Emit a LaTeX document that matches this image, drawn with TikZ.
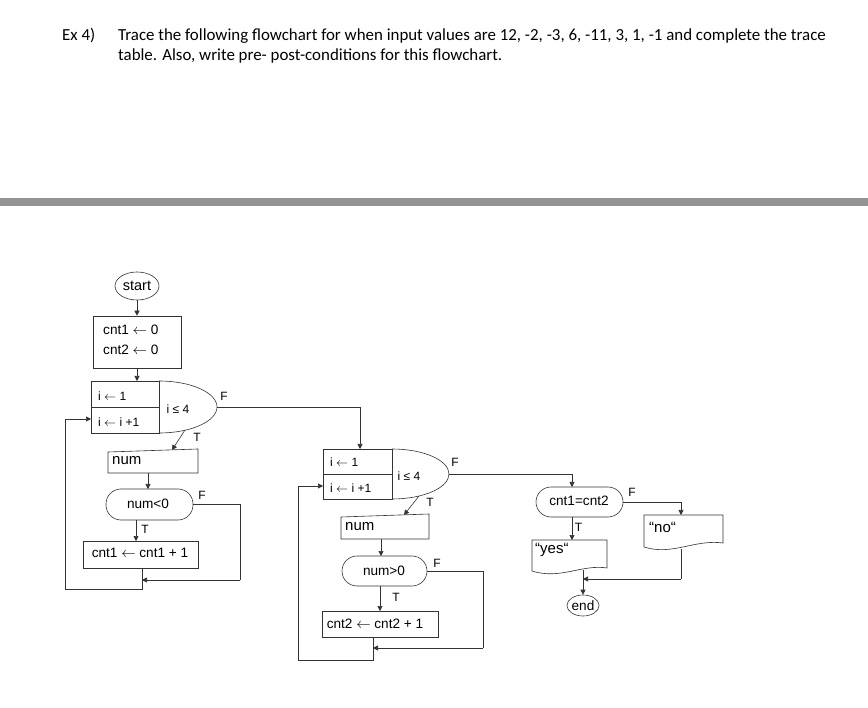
\documentclass[tikz,border=0pt]{standalone}
\usepackage{fontspec}
\setmainfont{Liberation Sans}
\newfontfamily\titlefont{Carlito}
\usetikzlibrary{arrows.meta,shapes.geometric}
\newcommand{\la}{\ensuremath{\leftarrow}}
\begin{document}
\begin{tikzpicture}[x=1pt,y=-1pt,
  ln/.style={draw=black!80,line width=0.6pt},
  arr/.style={ln,-{Triangle[length=5pt,width=5pt]}},
  txt/.style={inner sep=0pt,font=\fontsize{13.6}{15}\selectfont},
  bigtxt/.style={inner sep=0pt,font=\fontsize{15}{17}\selectfont},
  stxt/.style={inner sep=0pt,font=\fontsize{12}{13}\selectfont},
  tflbl/.style={inner sep=0pt,font=\fontsize{12}{14}\selectfont},
  ttl/.style={inner sep=0pt,font=\titlefont\fontsize{16.9}{20}\selectfont},
  boxn/.style={ln,rectangle,inner sep=0pt},
  stad/.style={ln,rectangle,rounded corners=15pt,inner sep=0pt}]
\useasboundingbox (0,0) rectangle (868,708);
\fill[white] (0,0) rectangle (868,708);

% title
\node[ttl,anchor=base west] (ex) at (62,41) {Ex 4)};
\node[ttl,anchor=base west] (q1) at (118,41)
  {Trace the following flowchart for when input values are 12, -2, -3, 6, -11, 3, 1, -1 and complete the trace};
\node[ttl,anchor=base west] (q2) at (118,61)
  {table. Also, write pre- post-conditions for this flowchart.};

% gray bar
\fill[black!42] (0,198) rectangle (868,206);

% ---------- left column ----------
\node[ln,ellipse,minimum width=44pt,minimum height=28pt,inner sep=0pt,font=\fontsize{14.5}{16}\selectfont] (start) at (137,286) {start};
\node[boxn,minimum width=88pt,minimum height=52pt] (init) at (137,342) {};
\node[txt,anchor=west] (initA) at (103,330) {cnt1 \la{} 0};
\node[txt,anchor=west] (initB) at (103,350) {cnt2 \la{} 0};
\draw[arr] (start.south) -- (init.north);

% loop 1
\coordinate (L1top) at (137,381);
\coordinate (L1in) at (91,419);
\coordinate (L1tip) at (217,407);
\coordinate (L1T) at (185,430);
\draw[ln] (91,381) rectangle (159,433);
\draw[ln] (91,407) -- (159,407);
\draw[ln] (159,381) arc[start angle=-90,end angle=90,x radius=58,y radius=26];
\node[stxt,anchor=west] (l1a) at (98,396) {i \la{} 1};
\node[stxt,anchor=west] (l1b) at (98,422) {i \la{} i +1};
\node[stxt] (l1c) at (178,409) {i ≤ 4};
\draw[arr] (init.south) -- (L1top);

% num 1 (manual input)
\draw[ln] (108,452) -- (198,449) -- (198,473) -- (108,473) -- cycle;
\coordinate (N1top) at (172,450);
\coordinate (N1bot) at (148,473);
\node[bigtxt,anchor=west] (n1) at (112,461) {num};
\draw[arr] (L1T) -- (N1top);
\node[tflbl] (T1) at (197,437) {T};

\node[stad,minimum width=87pt,minimum height=31pt] (d1) at (149.5,504.5) {};
\node[txt] (d1t) at (148,504) {num<0};
\draw[arr] (N1bot) -- (148,489);
\node[tflbl] (F1b) at (202,495) {F};

\node[boxn,minimum width=115pt,minimum height=27pt] (c1) at (140.5,554.5) {};
\node[txt] (c1t) at (140,553) {cnt1 \la{} cnt1 + 1};
\coordinate (d1T) at (136,520);
\draw[arr] (d1T) -- (136,541);
\node[tflbl] (T1b) at (145,529) {T};

\coordinate (c1b) at (142,568);
\coordinate (j1) at (142,580);
\draw[ln] (c1b) -- (142,589) -- (65,589) -- (65,419);
\draw[arr] (65,419) -- (L1in);
\draw[ln] (d1.east) -- (240,504.5) -- (240,580);
\draw[arr] (240,580) -- (j1);

% F from loop1 to loop2
\node[tflbl] (F1) at (224,396) {F};
\coordinate (L2top) at (360,449);
\draw[ln] (L1tip) -- (360,407);
\draw[arr] (360,407) -- (L2top);

% ---------- middle column ----------
\coordinate (L2in) at (323,486);
\coordinate (L2tip) at (449,474);
\coordinate (L2T) at (419,496);
\draw[ln] (323,449) rectangle (392,499);
\draw[ln] (323,474) -- (392,474);
\draw[ln] (392,449) arc[start angle=-90,end angle=90,x radius=57,y radius=25];
\node[stxt,anchor=west] (l2a) at (330,462) {i \la{} 1};
\node[stxt,anchor=west] (l2b) at (330,488) {i \la{} i +1};
\node[stxt] (l2c) at (409,476) {i ≤ 4};

\draw[ln] (341,517) -- (429,514) -- (429,539) -- (341,539) -- cycle;
\coordinate (N2top) at (404,515);
\coordinate (N2bot) at (381,539);
\node[bigtxt,anchor=west] (n2) at (345,527) {num};
\draw[arr] (L2T) -- (N2top);
\node[tflbl] (T2) at (430,502) {T};

\node[stad,minimum width=85pt,minimum height=30pt] (d2) at (384.5,571) {};
\node[txt] (d2t) at (384,571) {num>0};
\draw[arr] (N2bot) -- (381,556);
\node[tflbl] (F2b) at (437,563) {F};

\node[boxn,minimum width=116pt,minimum height=26pt] (c2) at (380,624) {};
\node[txt] (c2t) at (375,624) {cnt2 \la{} cnt2 + 1};
\coordinate (d2T) at (380,586);
\draw[arr] (d2T) -- (380,611);
\node[tflbl] (T2b) at (396,597) {T};

\coordinate (c2b) at (373,637);
\coordinate (j2) at (373,648);
\draw[ln] (c2b) -- (373,660) -- (298,660) -- (298,486);
\draw[arr] (298,486) -- (L2in);
\draw[ln] (d2.east) -- (483,571) -- (483,648);
\draw[arr] (483,648) -- (j2);

% F from loop2
\node[tflbl] (F2) at (455,462) {F};
\node[stad,minimum width=87pt,minimum height=30pt] (d3) at (579.5,502) {};
\node[txt] (d3t) at (579,501) {cnt1=cnt2};
\draw[ln] (L2tip) -- (572,474);
\draw[arr] (572,474) -- (572,487);

% ---------- right column ----------
\node[tflbl] (F3) at (632,492) {F};
\draw[ln] (d3.east) -- (681,502);
\draw[arr] (681,502) -- (681,515);
\draw[ln] (644,515) -- (723,515) -- (723,543) .. controls (695,539) and (672,556) .. (644,547) -- cycle;
\node[bigtxt,anchor=west] (no) at (649,527) {“no“};

\coordinate (d3T) at (572,517);
\draw[arr] (d3T) -- (572,540);
\node[tflbl] (T3) at (578.5,527) {T};
\draw[ln] (532,540) -- (607,540) -- (607,568) .. controls (582,564) and (560,580) .. (532,571) -- cycle;
\node[bigtxt,anchor=west] (yes) at (535,550) {“yes“};

\node[ln,ellipse,minimum width=32pt,minimum height=21pt,inner sep=0pt,txt] (end) at (583,605.5) {end};
\coordinate (j3) at (583,579);
\draw[arr] (583,570) -- (end.north);
\draw[ln] (681,549) -- (681,579);
\draw[arr] (681,579) -- (j3);
\end{tikzpicture}
\end{document}
